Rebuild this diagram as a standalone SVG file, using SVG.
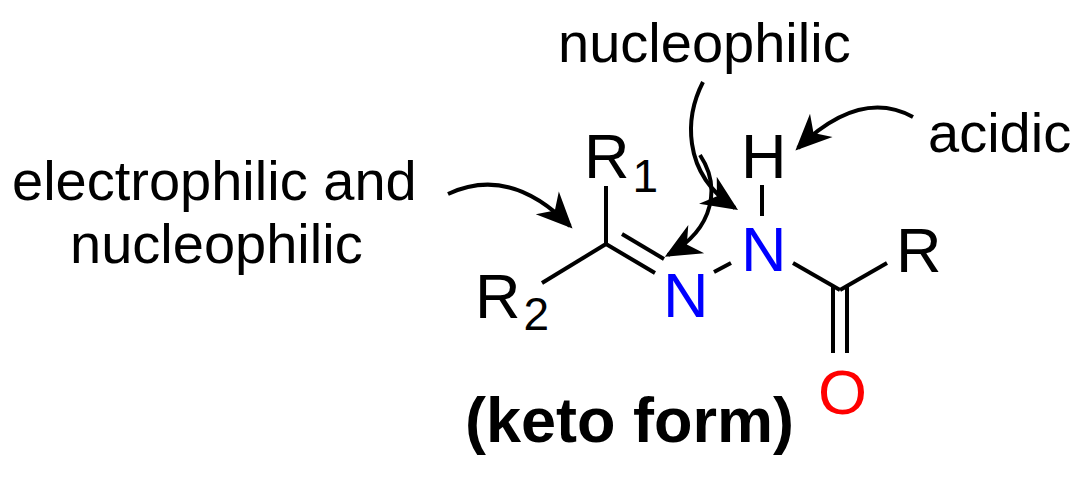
<svg xmlns="http://www.w3.org/2000/svg" width="1075" height="485" viewBox="0 0 1075 485">
<defs>
<style>
.t{font-family:"Liberation Sans",Arial,sans-serif;font-size:56px;fill:#000}
.a{font-family:"Liberation Sans",Arial,sans-serif;font-size:63px}
.s{font-size:46px}
.b{stroke:#000;stroke-width:4;fill:none}
.c{stroke:#000;stroke-width:4;fill:none;marker-end:url(#ah)}
</style>
<marker id="ah" viewBox="0 0 10 10" refX="9" refY="5" markerWidth="10" markerHeight="9" orient="auto" markerUnits="strokeWidth">
<path d="M0,0.5 L10,5 L0,9.5 L3,5 Z" fill="#000"/>
</marker>
</defs>
<rect width="1075" height="485" fill="#fff"/>
<g id="labels">
<text class="t" x="558" y="62">nucleophilic</text>
<text class="t" x="928" y="152">acidic</text>
<text class="t" x="12" y="200">electrophilic and</text>
<text class="t" x="70" y="263">nucleophilic</text>
<text x="465" y="442" font-family="Liberation Sans,Arial,sans-serif" font-size="63" font-weight="bold">(keto form)</text>
</g>
<g id="atoms">
<text class="a" x="584" y="178">R<tspan class="s" dx="3" dy="14">1</tspan></text>
<text class="a" x="741" y="178">H</text>
<text class="a" x="741" y="271" fill="#0000ff">N</text>
<text class="a" x="663" y="317" fill="#0000ff">N</text>
<text class="a" x="475" y="318">R<tspan class="s" dx="3" dy="12">2</tspan></text>
<text class="a" x="896" y="272">R</text>
<text class="a" x="818" y="414" fill="#ff0000">O</text>
</g>
<g id="bonds">
<line class="b" x1="606" y1="186" x2="606" y2="244"/>
<line class="b" x1="606" y1="244" x2="542" y2="283"/>
<line class="b" x1="606" y1="244" x2="655" y2="273"/>
<line class="b" x1="622" y1="234" x2="664" y2="259"/>
<line class="b" x1="714" y1="272" x2="731" y2="263"/>
<line class="b" x1="762" y1="185" x2="762" y2="216"/>
<line class="b" x1="793" y1="263" x2="840" y2="290"/>
<line class="b" x1="840" y1="290" x2="887" y2="263"/>
<line class="b" x1="833" y1="287" x2="833" y2="353"/>
<line class="b" x1="847" y1="287" x2="847" y2="353"/>
</g>
<g id="connectors">
<path class="c" d="M448,194 Q510,165 570,226"/>
<path class="c" d="M703,82 C686,115 680,172 735,208"/>
<path class="c" d="M700,155 C720,185 716,228 668,255"/>
<path class="c" d="M913,117 Q860,88 798,148"/>
</g>
</svg>
